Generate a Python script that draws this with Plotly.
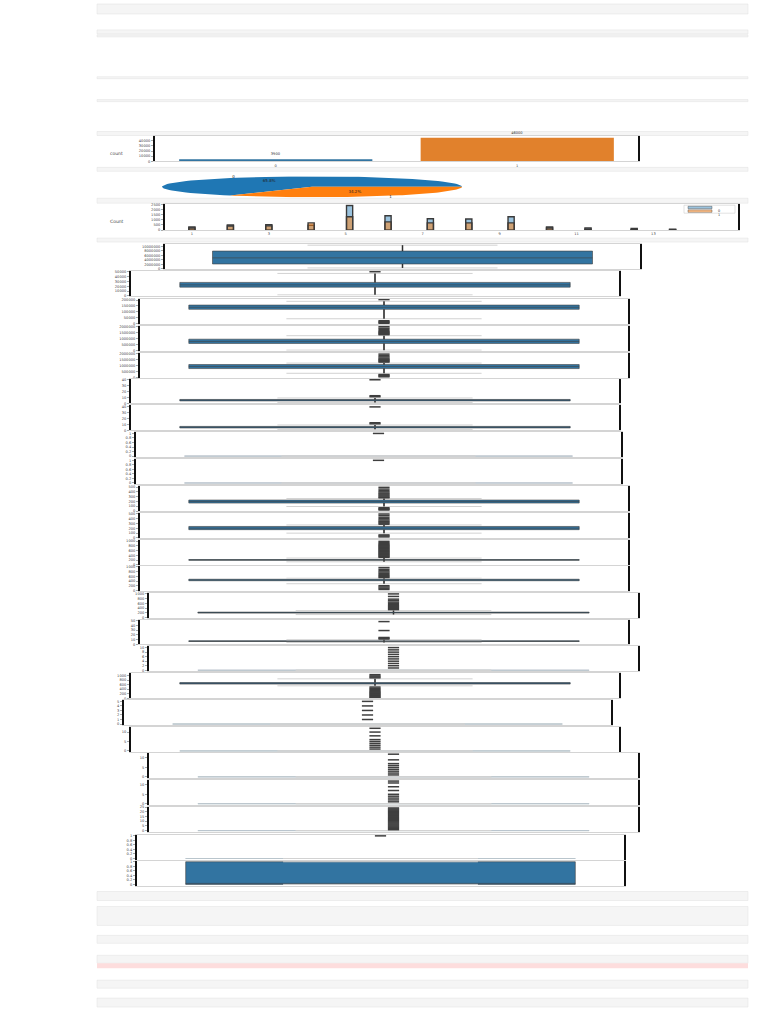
import numpy as np
import plotly.graph_objects as go

W, H = 768, 1024

# ---------------- data ----------------
BAR_CATS = ["0", "1"]
BAR_VALUES = [3900, 46000]

PIE_LABELS = ["0", "1"]
PIE_VALUES = [65.8, 34.2]

HIST_X = [1.0, 2.0, 3.0, 4.1, 5.1, 6.1, 7.2, 8.2, 9.3, 10.3, 11.3, 12.5, 13.5]
HIST_A = [300, 500, 520, 480, 2400, 1400, 1100, 1080, 1300, 300, 200, 150, 90]
HIST_B = [200, 400, 410, 700, 1300, 800, 700, 700, 700, 200, 100, 50, 40]
HIST_NAMES = ["0", "1"]

BOX_Q1 = [2200000, 18200, 121800, 609000, 756000, 4.2, 4.0, 0, 0, 166, 172, 189, 420, 189, 6.2, 0, 627, 0, 0, 0, 0, 0, 0, 0]
BOX_MED = [4900000, 22900, 138600, 777000, 924000, 5.5, 5.3, 0, 0, 198, 203, 205, 452, 210, 6.8, 0, 660, 0, 0, 0, 0, 0, 0, 0]
BOX_Q3 = [7900000, 28100, 157500, 966000, 1092000, 6.7, 6.6, 0, 0, 229, 239, 220, 483, 231, 7.8, 0, 693, 0, 0, 0, 0, 0, 0, 1]
BOX_LO = [450000, 2100, 42000, 42000, 357000, 1.7, 1.6, 0, 0, 94, 99, 126, 294, 126, 4.2, 0, 550, 0, 0, 0, 0, 0, 0, 0]
BOX_HI = [10500000, 46800, 189000, 1260000, 1218000, 9.2, 9.0, 0, 0, 260, 270, 284, 525, 294, 9.9, 0, 858, 0, 0, 0, 0, 0, 0, 1]
BOX_OUT = [
    [],
    [50400],
    [4200, 10500, 16800, 25200, 203700],
    [1344000, 1407000, 1470000, 1533000, 1596000, 1680000, 1785000, 1890000, 2016000],
    [63000, 126000, 189000, 252000, 1302000, 1365000, 1428000, 1491000, 1554000, 1638000, 1743000, 1848000, 1974000],
    [11.3, 13.0, 39.9],
    [11.0, 12.8, 39.5],
    [1],
    [1],
    [21, 36, 52, 68, 276, 291, 312, 333, 354, 374, 400, 426, 458, 494],
    [21, 42, 62, 286, 307, 328, 348, 374, 400, 432, 468, 499],
    [315, 346, 378, 410, 441, 472, 504, 536, 567, 598, 630, 662, 693, 724, 756, 788, 819, 850, 892, 934, 987],
    [52, 105, 158, 210, 556, 598, 640, 682, 735, 788, 840, 903, 976],
    [336, 378, 420, 462, 504, 546, 598, 651, 714, 777, 892, 998],
    [11.4, 13.0, 14.6, 29.1, 47.8],
    [1, 2, 3, 4, 5, 6, 7, 8, 9, 10],
    [11, 44, 77, 110, 143, 176, 209, 242, 275, 308, 352, 396, 440, 495, 902, 946, 990, 1045],
    [1, 2, 3, 4, 5],
    [1, 2, 3, 4, 5, 6, 8, 10, 12],
    [1, 2, 3, 4, 5, 6, 7, 9, 12],
    [1, 2, 3, 4, 5, 7, 9, 11, 12],
    [1, 2, 3, 4, 5, 6, 7, 8, 9, 10, 11, 12, 13, 14, 15, 16, 17, 18, 19, 20, 21, 22, 23, 24],
    [1],
    [],
]
BOX_YMIN = [0, 0, 0, 0, 0, 0, 0, -0.05, -0.05, 0, 0, 0, 0, 0, 0, -0.5, 0, -0.25, -0.6, -0.6, -0.6, -1.2, -0.05, -0.05]
BOX_YMAX = [11000000, 52000, 210000, 2100000, 2100000, 42, 42, 1.05, 1.05, 520, 520, 1050, 1050, 1050, 52, 10.5, 1100, 5.25, 12.6, 12.6, 12.6, 25.2, 1.05, 1.05]

# ---------------- layout (pixel positions) ----------------
BOX_TOP = [243, 270, 298, 325, 352, 378, 405, 432, 459, 486, 513, 540, 566, 593, 620, 647, 674, 701, 728, 754, 781, 808, 836, 862]
BOX_LEFT = [165, 131, 140, 140, 140, 131, 131, 136, 136, 140, 140, 140, 140, 149, 140, 149, 131, 124, 131, 149, 149, 149, 137, 137]
BOX_RIGHT = [640, 619, 628, 628, 628, 619, 619, 621, 621, 628, 628, 628, 628, 638, 628, 638, 619, 611, 619, 638, 638, 638, 624, 624]
PANEL_H = 25

CELL_BANDS = [(2, 12), (28, 32), (33, 35), (75, 77), (98, 100), (130, 134), (166, 170),
              (197, 202), (237, 241), (893, 902), (908, 927), (937, 945), (957, 965),
              (982, 990), (1000, 1009)]
ERROR_BANDS = [(965, 970)]

FONT = "DejaVu Sans"
TICKF = dict(family=FONT, size=3.6, color="#444")


def px_x(v):
    return v / W


def px_y(v):
    return 1 - v / H


def dx(l, r):
    return [px_x(l), px_x(r)]


def dy(t, b):
    return [px_y(b), px_y(t)]


fig = go.Figure()
layout = {}
annotations = []
shapes = []


def ax_names(n):
    if n == 1:
        return "xaxis", "yaxis", "x", "y"
    return f"xaxis{n}", f"yaxis{n}", f"x{n}", f"y{n}"


def make_axes(n, xdom, ydom, xr, yr, frame=True, yticks=True, xtickvals=None, xticktext=None, nt=6):
    xa, ya, xr_, yr_ = ax_names(n)
    layout[xa] = dict(domain=xdom, range=xr, anchor=yr_, showgrid=False, zeroline=False,
                      showline=frame, mirror=frame, linecolor="#d4d4d4", linewidth=1,
                      showticklabels=xtickvals is not None, ticks="",
                      tickvals=xtickvals, ticktext=xticktext, tickfont=TICKF, fixedrange=True)
    layout[ya] = dict(domain=ydom, range=yr, anchor=xr_, showgrid=False, zeroline=False,
                      showline=frame, mirror=frame, linecolor="#111", linewidth=2,
                      showticklabels=yticks, ticks="outside" if yticks else "", ticklen=2,
                      tickwidth=0.5, tickcolor="#aaa", tickfont=TICKF, nticks=nt,
                      exponentformat="none", fixedrange=True)
    if yr[1] - yr[0] > 100:
        layout[ya]["tickformat"] = "d"
    return xr_, yr_


n = 1
# ---- bar chart ----
xr_, yr_ = make_axes(n, dx(155, 638), dy(135, 160), [-0.5, 1.5], [0, max(BAR_VALUES) * 1.05],
                     xtickvals=[0, 1], xticktext=BAR_CATS)
fig.add_trace(go.Bar(x=[0, 1], y=BAR_VALUES, width=0.8, marker=dict(color=["#3274a1", "#e1812c"], line_width=0),
                     text=[str(v) for v in BAR_VALUES], textposition="outside",
                     textfont=dict(family=FONT, size=3.6, color="#333"), cliponaxis=False,
                     showlegend=False, xaxis=xr_, yaxis=yr_))
annotations.append(dict(text="count", x=px_x(108), y=px_y(148), xref="paper", yref="paper",
                        showarrow=False, font=dict(family=FONT, size=4.5, color="#444")))
n += 1

# ---- pie (drawn as filled wedges so it can be squashed like the reference) ----
xr_, yr_ = make_axes(n, dx(162, 462), dy(175, 196), [-1, 1], [-1, 1], frame=False, yticks=False)
pie_cols = ["#1f77b4", "#ff7f0e"]
tot = sum(PIE_VALUES)
start = 0.0
for lab, val, col in zip(PIE_LABELS, PIE_VALUES, pie_cols):
    a0, a1 = start, start + 2 * np.pi * val / tot
    th = np.linspace(a0, a1, 80)
    fig.add_trace(go.Scatter(x=np.r_[0, np.cos(th), 0], y=np.r_[0, np.sin(th), 0], mode="lines",
                             fill="toself", fillcolor=col, line=dict(width=0, color=col),
                             showlegend=False, hoverinfo="skip", xaxis=xr_, yaxis=yr_))
    mid = (a0 + a1) / 2
    fig.add_trace(go.Scatter(x=[0.6 * np.cos(mid), 1.1 * np.cos(mid)], y=[0.6 * np.sin(mid), 1.1 * np.sin(mid)],
                             mode="text", text=[f"{val / tot * 100:.1f}%", lab],
                             textfont=dict(family=FONT, size=4, color="#222"), cliponaxis=False,
                             showlegend=False, xaxis=xr_, yaxis=yr_))
    start = a1
n += 1

# ---- histogram with hue ----
xr_, yr_ = make_axes(n, dx(165, 738), dy(203, 229), [0.3, 15.2], [0, max(HIST_A + HIST_B) * 1.05],
                     xtickvals=[1, 3, 5, 7, 9, 11, 13], xticktext=["1", "3", "5", "7", "9", "11", "13"])
hist_cols = ["rgba(31,119,180,0.45)", "rgba(255,127,14,0.5)"]
for name, vals, col in zip(HIST_NAMES, [HIST_A, HIST_B], hist_cols):
    fig.add_trace(go.Bar(x=HIST_X, y=vals, width=0.16, name=name,
                         marker=dict(color=col, line=dict(color="#3a3a3a", width=1.4)),
                         showlegend=False, xaxis=xr_, yaxis=yr_))
annotations.append(dict(text="Count", x=px_x(108), y=px_y(216), xref="paper", yref="paper",
                        showarrow=False, font=dict(family=FONT, size=4.5, color="#444")))
# small legend box like matplotlib's
shapes.append(dict(type="rect", xref="paper", yref="paper", x0=px_x(684), x1=px_x(735),
                   y0=px_y(212), y1=px_y(204), fillcolor="white", line=dict(color="#cccccc", width=0.6)))
for k, (name, col) in enumerate(zip(HIST_NAMES, hist_cols)):
    yy = 206.3 + k * 3.6
    shapes.append(dict(type="rect", xref="paper", yref="paper", x0=px_x(688), x1=px_x(712),
                       y0=px_y(yy + 1.2), y1=px_y(yy - 1.2), fillcolor=col, line=dict(color="#3a3a3a", width=0.4)))
    annotations.append(dict(text=name, x=px_x(716), y=px_y(yy), xref="paper", yref="paper", xanchor="left",
                            showarrow=False, font=dict(family=FONT, size=3.4, color="#333")))
n += 1

# ---- box plots ----
for i in range(len(BOX_TOP)):
    t = BOX_TOP[i]
    xr_, yr_ = make_axes(n, dx(BOX_LEFT[i], BOX_RIGHT[i]), dy(t, t + PANEL_H), [-0.5, 0.5],
                         [BOX_YMIN[i], BOX_YMAX[i]])
    collapsed = BOX_Q1[i] == BOX_Q3[i]
    fig.add_trace(go.Box(x=[0], q1=[BOX_Q1[i]], median=[BOX_MED[i]], q3=[BOX_Q3[i]],
                         lowerfence=[BOX_LO[i]], upperfence=[BOX_HI[i]], width=0.8, whiskerwidth=0,
                         fillcolor="#3274a1",
                         line=dict(color="#b9c4cc" if collapsed else "#3f3f3f", width=0.8 if collapsed else 0.6),
                         boxpoints=False, showlegend=False, hoverinfo="skip", xaxis=xr_, yaxis=yr_))
    # whisker caps (light, as in the reference)
    fig.add_trace(go.Scatter(x=[-0.2, 0.2, None, -0.2, 0.2], y=[BOX_LO[i], BOX_LO[i], None, BOX_HI[i], BOX_HI[i]],
                             mode="lines", line=dict(color="#d2d2d2", width=1), showlegend=False,
                             hoverinfo="skip", xaxis=xr_, yaxis=yr_))
    # whisker stems, dark
    if not collapsed:
        fig.add_trace(go.Scatter(x=[0, 0, None, 0, 0], y=[BOX_LO[i], BOX_Q1[i], None, BOX_Q3[i], BOX_HI[i]],
                                 mode="lines", line=dict(color="#2f2f2f", width=1.5), showlegend=False,
                                 hoverinfo="skip", xaxis=xr_, yaxis=yr_))
    if BOX_OUT[i]:
        fig.add_trace(go.Scatter(x=[0] * len(BOX_OUT[i]), y=BOX_OUT[i], mode="markers",
                                 marker=dict(symbol="line-ew", size=8, line=dict(color="#3f3f3f", width=1.5)),
                                 showlegend=False, hoverinfo="skip", cliponaxis=False, xaxis=xr_, yaxis=yr_))
    n += 1

# notebook cell backgrounds
for (t, b) in CELL_BANDS:
    shapes.append(dict(type="rect", xref="paper", yref="paper", x0=px_x(97), x1=px_x(748),
                       y0=px_y(b), y1=px_y(t), fillcolor="#f5f5f5", line=dict(color="#e0e0e0", width=0.5),
                       layer="below"))
for (t, b) in ERROR_BANDS:
    shapes.append(dict(type="rect", xref="paper", yref="paper", x0=px_x(97), x1=px_x(748),
                       y0=px_y(b), y1=px_y(t), fillcolor="#fddddd", line=dict(width=0), layer="below"))

fig.update_layout(
    width=W, height=H, margin=dict(l=0, r=0, t=0, b=0, pad=0),
    paper_bgcolor="white", plot_bgcolor="rgba(0,0,0,0)",
    barmode="overlay", showlegend=False,
    font=dict(family=FONT),
    shapes=shapes, annotations=annotations,
    **layout,
)

fig.write_html("out.html")
